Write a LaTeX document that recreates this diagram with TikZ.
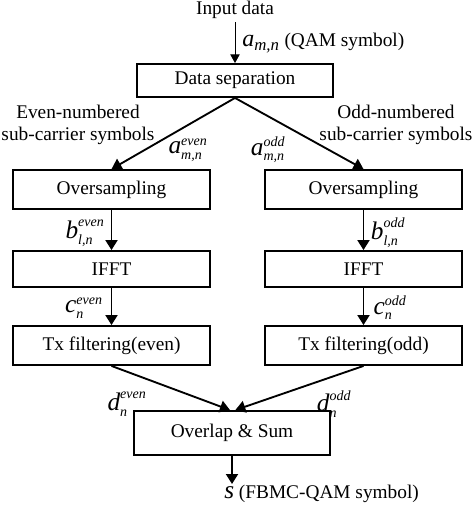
\documentclass[tikz,border=0pt]{standalone}
\usepackage{amsmath}
\usepackage{fontspec}
\setmainfont{Liberation Serif}
\DeclareMathSizes{19}{19}{10.5}{8}
\usetikzlibrary{arrows.meta}

\tikzset{
  blk/.style={draw, line width=1.4pt, minimum width=147.5pt, inner sep=0pt, font=\fontsize{14.5}{17}\selectfont},
  txt/.style={inner sep=0.75pt, font=\fontsize{14.5}{17}\selectfont},
  sym/.style={inner sep=0pt, font=\fontsize{19}{21}\selectfont},
  flow/.style={line width=1.4pt, -{Triangle[width=9pt,length=7.5pt]}},
}

\begin{document}
\begin{tikzpicture}[x=0.75pt,y=0.75pt,yscale=-1,xscale=1]
\useasboundingbox (0,0) rectangle (474,507);

% Blocks
\node [blk, minimum height=24.75pt] (sep) at (235,80.5) {Data separation};
\node [blk, minimum height=29.25pt] (osL) at (111.5,189.5) {Oversampling};
\node [blk, minimum height=29.25pt] (osR) at (363.5,189.5) {Oversampling};
\node [blk, minimum height=27pt] (ifL) at (111.5,269) {IFFT};
\node [blk, minimum height=27pt] (ifR) at (363.5,269) {IFFT};
\node [blk, minimum height=29.25pt] (txL) at (111.5,345.5) {Tx filtering(even)};
\node [blk, minimum height=29.25pt] (txR) at (363.5,345.5) {Tx filtering(odd)};
\node [blk, minimum height=33pt, minimum width=147pt] (ov) at (232,433) {Overlap \& Sum};

% Input and output
\node [txt] (in) at (235,10) {Input data};
\coordinate (out) at (232,484);
\node [txt, anchor=west] (outlab) at (223,494) {{\fontsize{19}{21}\selectfont$\textit{s}$} (FBMC-QAM symbol)};

% Connectors
\draw [line width=0.7pt, -{Triangle[width=7pt,length=6.5pt]}] (in.south) ++(0,2) -- (sep.north);
\draw [flow] (sep.south) -- (osL.north);
\draw [flow] (sep.south) -- (osR.north);
\draw [flow] (osL) -- (ifL);
\draw [flow] (osR) -- (ifR);
\draw [flow] (ifL) -- (txL);
\draw [flow] (ifR) -- (txR);
\draw [flow] (txL.south) -- ([xshift=-1.5pt]ov.north);
\draw [flow] (txR.south) -- ([xshift=2.5pt]ov.north);
\draw [flow] (ov.south) -- (out);

% Labels
\node [txt, anchor=west] (qam) at (241,43) {{\fontsize{18}{21}\selectfont$\textit{a}_{\textit{m,n}}$} (QAM symbol)};
\node [txt, align=center] (evenlab) at (78,125) {Even-numbered\\[-1pt]sub-carrier symbols};
\node [txt, align=center] (oddlab) at (396,125) {Odd-numbered\\[-1pt]sub-carrier symbols};
\node [sym] (aeven) at (188,150) {$\textit{a}^{\textit{even}}_{\textit{m,n}}$};
\node [sym] (aodd) at (268,150) {$\textit{a}^{\textit{odd}}_{\textit{m,n}}$};
\node [sym] (beven) at (85,233) {$\textit{b}^{\textit{even}}_{\textit{l,n}}$};
\node [sym] (bodd) at (388,233) {$\textit{b}^{\textit{odd}}_{\textit{l,n}}$};
\node [sym] (ceven) at (84,308) {$\textit{c}^{\textit{even}}_{\textit{n}}$};
\node [sym] (codd) at (390,308) {$\textit{c}^{\textit{odd}}_{\textit{n}}$};
\node [sym] (deven) at (127,404) {$\textit{d}^{\textit{even}}_{\textit{n}}$};
\node [sym] (dodd) at (334,404) {$\textit{d}^{\textit{odd}}_{\textit{n}}$};

\end{tikzpicture}
\end{document}
